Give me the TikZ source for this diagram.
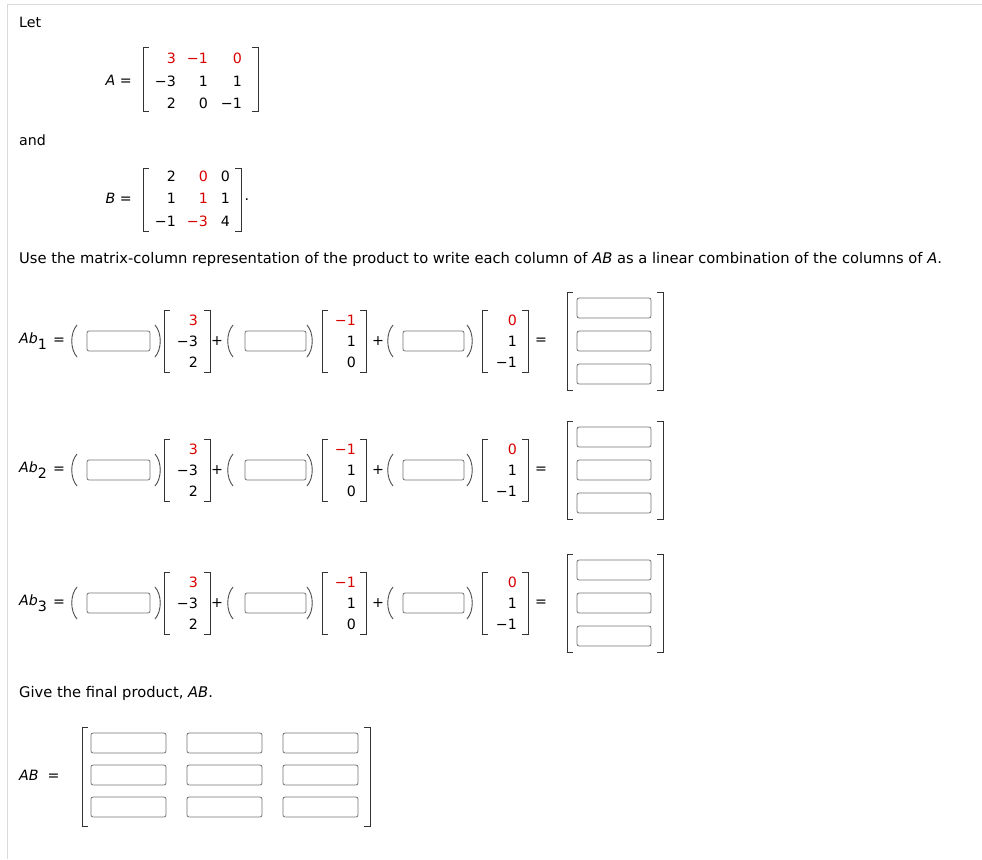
\documentclass[tikz,border=0pt]{standalone}
\usepackage{fontspec}
\setmainfont{DejaVu Sans}
\begin{document}
\begin{tikzpicture}[x=1pt,y=-1pt,
  txt/.style={inner sep=0pt,font=\fontsize{14.2}{16}\selectfont},
  ent/.style={txt,anchor=east},
  ansbox/.style={draw=black!55,rounded corners=2pt,line width=0.8pt},
  brk/.style={line width=1pt,draw=black!80},
  par/.style={line width=0.9pt,draw=black!70}]
\useasboundingbox (0,0) rectangle (982,859);
\draw[black!15,line width=1pt] (7,859) -- (7,5) -- (982,5);
\newcommand{\mybr}[4]{% left x, right x, top, bottom
  \draw[brk] (#1+6,#3) -- (#1,#3) -- (#1,#4) -- (#1+6,#4);
  \draw[brk] (#2-6,#3) -- (#2,#3) -- (#2,#4) -- (#2-6,#4);}
\newcommand{\mypar}[3]{% left paren x, right paren x, center y
  \draw[par] (#1+5,#3-16) .. controls (#1-2,#3-8) and (#1-2,#3+8) .. (#1+5,#3+16);
  \draw[par] (#2-5,#3-16) .. controls (#2+2,#3-8) and (#2+2,#3+8) .. (#2-5,#3+16);}
\newcommand{\mybox}[3]{\draw[ansbox] (#1,#3-10) rectangle (#2,#3+10);}
% Let / A
\node[txt,anchor=west] (let) at (19,22) {Let};
\node[txt,anchor=east] (aeq) at (132,80) {\textit{A} =};
\mybr{143}{258}{48}{111}
\node[ent,red!85!black] (a11) at (176,58) {3};
\node[ent,red!85!black] (a12) at (208,58) {−1};
\node[ent,red!85!black] (a13) at (242,58) {0};
\node[ent] (a21) at (176,81) {−3};
\node[ent] (a22) at (208,81) {1};
\node[ent] (a23) at (242,81) {1};
\node[ent] (a31) at (176,103) {2};
\node[ent] (a32) at (208,103) {0};
\node[ent] (a33) at (242,103) {−1};
\node[txt,anchor=west] (and) at (19,140) {and};
\node[txt,anchor=east] (beq) at (132,198) {\textit{B} =};
\mybr{143}{241}{168}{231}
\node[ent] (b11) at (176,176) {2};
\node[ent,red!85!black] (b12) at (208,176) {0};
\node[ent] (b13) at (230,176) {0};
\node[ent] (b21) at (176,198) {1};
\node[ent,red!85!black] (b22) at (208,198) {1};
\node[ent] (b23) at (230,198) {1};
\node[ent] (b31) at (176,221) {−1};
\node[ent,red!85!black] (b32) at (208,221) {−3};
\node[ent] (b33) at (230,221) {4};
\node[txt] (dot) at (247,200) {.};
\node[txt,anchor=west,font=\fontsize{14.7}{17}\selectfont] (use) at (19,259) {Use the matrix-column representation of the product to write each column of \textit{AB} as a linear combination of the columns of \textit{A}.};
% rows
\foreach \yc/\k in {341/1,470/2,603/3}{
  \node[txt,anchor=west] (ab\k) at (19,\yc) {\textit{Ab}\raisebox{-6pt}{\k}};
  \node[txt] (eqa\k) at (59,\yc) {=};
  \mypar{72}{160}{\yc}
  \mybox{87}{150}{\yc}
  \mybr{164}{210}{\yc-31}{\yc+31}
  \node[ent,red!85!black] at (198,\yc-21) {3};
  \node[ent] at (198,\yc) {−3};
  \node[ent] at (198,\yc+21) {2};
  \node[txt] (pl\k) at (217,\yc) {+};
  \mypar{228}{312}{\yc}
  \mybox{245}{306}{\yc}
  \mybr{322}{366}{\yc-31}{\yc+31}
  \node[ent,red!85!black] at (356,\yc-21) {−1};
  \node[ent] at (356,\yc) {1};
  \node[ent] at (356,\yc+21) {0};
  \node[txt] (pm\k) at (378,\yc) {+};
  \mypar{388}{472}{\yc}
  \mybox{403}{464}{\yc}
  \mybr{482}{528}{\yc-31}{\yc+31}
  \node[ent,red!85!black] at (517,\yc-21) {0};
  \node[ent] at (517,\yc) {1};
  \node[ent] at (517,\yc+21) {−1};
  \node[txt] (eqb\k) at (541,\yc) {=};
  \mybr{567}{663}{\yc-49}{\yc+49}
  \mybox{577}{651}{\yc-33}
  \mybox{577}{651}{\yc}
  \mybox{577}{651}{\yc+33}
}
\node[txt,anchor=west,font=\fontsize{14.7}{17}\selectfont] (give) at (19,693) {Give the final product, \textit{AB}.};
\node[txt,anchor=west] (abeq) at (19,775) {\textit{AB}\ \ =};
\mybr{82}{370}{727}{826}
\foreach \xa/\xb in {91/166,187/262,283/358}{
  \foreach \yy in {743,775,807}{ \mybox{\xa}{\xb}{\yy} }}
\end{tikzpicture}
\end{document}
